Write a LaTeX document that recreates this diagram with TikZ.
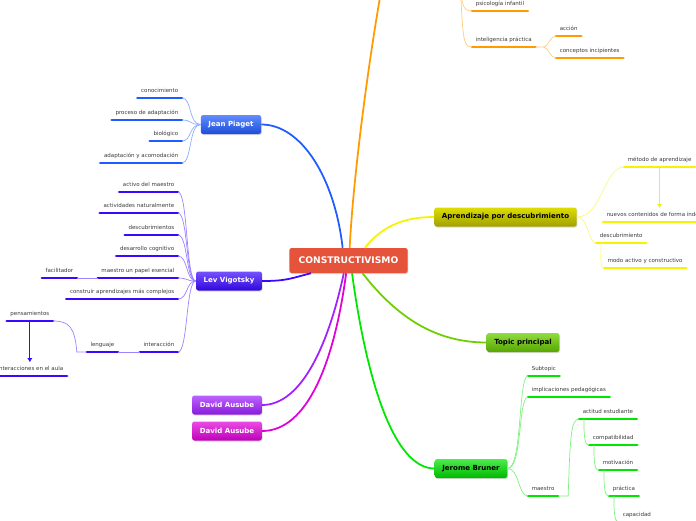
\documentclass[tikz,border=0pt]{standalone}
\usepackage{fontspec}
\usepackage{tikz}
\usetikzlibrary{shapes,arrows.meta,shadows}
\newfontfamily\mmfont{DejaVu Sans}
\definecolor{mmRoot}{HTML}{E4533A}
\definecolor{mmPiaget}{HTML}{1F5BFF}
\definecolor{mmVigotsky}{HTML}{3A08FF}
\definecolor{mmAusubelA}{HTML}{A020FF}
\definecolor{mmAusubelB}{HTML}{E000D8}
\definecolor{mmOrange}{HTML}{FF9A00}
\definecolor{mmYellow}{HTML}{F4F400}
\definecolor{mmOlive}{HTML}{C8C800}
\definecolor{mmLime}{HTML}{6CD000}
\definecolor{mmBruner}{HTML}{00E600}
\definecolor{mmText}{HTML}{3A3A3A}
\tikzset{
    mmBoxBase/.style={
        rectangle,
        rounded corners=2pt,
        minimum height=0.57cm,
        inner xsep=6.5pt,
        font=\mmfont\bfseries\fontsize{6}{7}\selectfont,
        text=white,
        drop shadow={opacity=0.3, shadow xshift=0.6pt, shadow yshift=-0.9pt}
    },
    % Topic Variants
    root/.style={mmBoxBase, fill=mmRoot, minimum height=0.75cm, inner xsep=8pt,
        font=\mmfont\bfseries\fontsize{7.8}{9}\selectfont},
    piaget/.style={mmBoxBase, top color=mmPiaget!70!white, bottom color=mmPiaget!85!black},
    vigotsky/.style={mmBoxBase, top color=mmVigotsky!70!white, bottom color=mmVigotsky!85!black},
    ausubelA/.style={mmBoxBase, top color=mmAusubelA!70!white, bottom color=mmAusubelA!85!black},
    ausubelB/.style={mmBoxBase, top color=mmAusubelB!70!white, bottom color=mmAusubelB!85!black},
    descub/.style={mmBoxBase, top color=mmOlive!60!yellow, bottom color=mmOlive!80!black, text=black},
    topicp/.style={mmBoxBase, top color=mmLime!75!white, bottom color=mmLime!80!black, text=black},
    bruner/.style={mmBoxBase, top color=mmBruner!70!white, bottom color=mmBruner!80!black, text=black},
    % Leaves with underline
    mmLeaf/.style={
        font=\mmfont\fontsize{4.7}{5.6}\selectfont,
        text=mmText,
        inner xsep=3pt, inner ysep=3.35pt,
        text height=3.6pt, text depth=1.1pt,
        append after command={(\tikzlastnode.south west) edge[line width=2.4pt, line cap=round, draw=#1] (\tikzlastnode.south east)}
    },
    leafL/.style={mmLeaf=#1, anchor=south east},
    leafR/.style={mmLeaf=#1, anchor=south west},
    % Connectors
    mmTrunk/.style={line width=1.5pt, draw=#1},
    mmTwig/.style={line width=0.6pt, draw=#1!50!white},
    mmArrow/.style={-{Latex[length=3.5pt,width=4.5pt]}, line width=0.8pt, draw=#1}
}

\begin{document}
\begin{tikzpicture}[x=0.03cm, y=-0.03cm]
\useasboundingbox (0,0) rectangle (696,520);

% main topics
\node[root] (root) at (348.5,260.5) {CONSTRUCTIVISMO};
\node[piaget] (piaget) at (231,124.5) {Jean Piaget};
\node[vigotsky] (vigotsky) at (229,281) {Lev Vigotsky};
\node[ausubelA] (ausubelA) at (227,405) {David Ausube};
\node[ausubelB] (ausubelB) at (227,431) {David Ausube};
\node[descub] (descub) at (505.5,217) {Aprendizaje por descubrimiento};
\node[topicp] (topicp) at (523,342.5) {Topic principal};
\node[bruner] (bruner) at (471,468.5) {Jerome Bruner};
\coordinate (orangeTop) at (392,-60);
\coordinate (orangeHub) at (460,-20);

\draw[mmTrunk=mmPiaget] ([xshift=-5pt]root.north) .. controls +(-8,-70) and +(40,0) .. (piaget.east);
\draw[mmTrunk=mmOrange] ([xshift=1pt]root.north) .. controls +(5,-100) and +(-10,30) .. (orangeTop);
\draw[mmTrunk=mmYellow] ([xshift=14pt]root.north) .. controls +(20,-25) and +(-25,0) .. (descub.west);
\draw[mmTrunk=mmVigotsky] ([xshift=-32pt]root.south) .. controls +(-20,5) and +(25,0) .. (vigotsky.east);
\draw[mmTrunk=mmAusubelA] ([xshift=-4pt]root.south) .. controls +(-15,70) and +(40,0) .. (ausubelA.east);
\draw[mmTrunk=mmAusubelB] ([xshift=-2pt]root.south) .. controls +(-12,90) and +(45,0) .. (ausubelB.east);
\draw[mmTrunk=mmBruner] ([xshift=3pt]root.south) .. controls +(15,110) and +(-40,0) .. (bruner.west);
\draw[mmTrunk=mmLime] ([xshift=12pt]root.south) .. controls +(35,45) and +(-50,0) .. (topicp.west);

% Jean Piaget
\node[leafL=mmPiaget] (pConoc) at (182,98) {conocimiento};
\node[leafL=mmPiaget] (pProceso) at (182,120) {proceso de adaptación};
\node[leafL=mmPiaget] (pBiol) at (182,141) {biológico};
\node[leafL=mmPiaget] (pAdapt) at (182,163) {adaptación y acomodación};
\draw[mmTwig=mmPiaget] (piaget.west) .. controls +(-12,0) and +(10,0) .. (pConoc.south east);
\draw[mmTwig=mmPiaget] (piaget.west) .. controls +(-12,0) and +(10,0) .. (pProceso.south east);
\draw[mmTwig=mmPiaget] (piaget.west) .. controls +(-12,0) and +(10,0) .. (pBiol.south east);
\draw[mmTwig=mmPiaget] (piaget.west) .. controls +(-12,0) and +(10,0) .. (pAdapt.south east);

% Lev Vigotsky
\node[leafL=mmVigotsky] (vActivo) at (178,192) {activo del maestro};
\node[leafL=mmVigotsky] (vActiv) at (178,213) {actividades naturalmente};
\node[leafL=mmVigotsky] (vDescub) at (178,235) {descubrimientos};
\node[leafL=mmVigotsky] (vDesarr) at (178,256) {desarrollo cognitivo};
\node[leafL=mmVigotsky] (vMaestro) at (178,278) {maestro un papel esencial};
\node[leafL=mmVigotsky] (vConstr) at (178,299) {construir aprendizajes más complejos};
\node[leafL=mmVigotsky] (vInter) at (178,352) {interacción};
\node[leafL=mmVigotsky] (vFacil) at (77,278) {facilitador};
\node[leafL=mmVigotsky] (vLeng) at (118,352) {lenguaje};
\node[leafL=mmVigotsky] (vPens) at (53,321) {pensamientos};
\node[leafL=mmVigotsky] (vAula) at (67,376) {interacciones en el aula};
\draw[mmTwig=mmVigotsky] (vigotsky.west) .. controls +(-10,0) and +(10,0) .. (vActivo.south east);
\draw[mmTwig=mmVigotsky] (vigotsky.west) .. controls +(-10,0) and +(10,0) .. (vActiv.south east);
\draw[mmTwig=mmVigotsky] (vigotsky.west) .. controls +(-10,0) and +(10,0) .. (vDescub.south east);
\draw[mmTwig=mmVigotsky] (vigotsky.west) .. controls +(-10,0) and +(10,0) .. (vDesarr.south east);
\draw[mmTwig=mmVigotsky] (vigotsky.west) .. controls +(-10,0) and +(10,0) .. (vMaestro.south east);
\draw[mmTwig=mmVigotsky] (vigotsky.west) .. controls +(-10,0) and +(10,0) .. (vConstr.south east);
\draw[mmTwig=mmVigotsky] (vigotsky.west) .. controls +(-10,0) and +(10,0) .. (vInter.south east);
\draw[mmTwig=mmVigotsky] (vMaestro.south west) -- (vFacil.south east);
\draw[mmTwig=mmVigotsky] (vInter.south west) -- (vLeng.south east);
\draw[mmTwig=mmVigotsky] (vLeng.south west) -- ++(-10,0) .. controls +(-2,-25) and +(16,0) .. (vPens.south east);
\draw[mmArrow=mmVigotsky] (vPens.south) -- (vPens.south |- vAula.north);

% orange branch (parent above the page)
\node[leafR=mmOrange] (oPsico) at (472,11) {psicología infantil};
\node[leafR=mmOrange] (oIntel) at (472,47) {inteligencia práctica};
\node[leafR=mmOrange] (oAccion) at (556,36) {acción};
\node[leafR=mmOrange] (oConc) at (556,58) {conceptos incipientes};
\draw[mmTwig=mmOrange] (orangeHub) .. controls (462,4) and (462,11) .. (oPsico.south west);
\draw[mmTwig=mmOrange] (orangeHub) .. controls (463,40) and (463,47) .. (oIntel.south west);
\draw[mmTwig=mmOrange] (oIntel.south east) -- ++(8,0) coordinate (oFork) .. controls +(5,0) and +(-6,0) .. (oAccion.south west);
\draw[mmTwig=mmOrange] (oFork) .. controls +(5,0) and +(-6,0) .. (oConc.south west);

% Aprendizaje por descubrimiento
\node[leafR=mmYellow] (yMetodo) at (624,167) {método de aprendizaje};
\node[leafR=mmYellow] (yNuevos) at (603,222) {nuevos contenidos de forma independiente};
\node[leafR=mmYellow] (yDescub) at (596,243) {descubrimiento};
\node[leafR=mmYellow] (yModo) at (604,268) {modo activo y constructivo};
\draw[mmTwig=mmYellow] (descub.east) .. controls +(25,0) and +(-20,0) .. (yMetodo.south west);
\draw[mmTwig=mmYellow] (descub.east) .. controls +(12,0) and +(-8,0) .. (yDescub.south west);
\draw[mmTwig=mmYellow] ([xshift=4.2pt]yDescub.south west) .. controls +(0,18) and +(-4,0) .. (yModo.south west);
\draw[mmArrow=mmYellow] (yMetodo.south) -- (yMetodo.south |- yNuevos.north);

% Jerome Bruner
\node[leafR=mmBruner] (gSub) at (528,376) {Subtopic};
\node[leafR=mmBruner] (gImpl) at (528,397) {implicaciones pedagógicas};
\node[leafR=mmBruner] (gMaestro) at (528,496) {maestro};
\node[leafR=mmBruner] (gActitud) at (579,419) {actitud estudiante};
\node[leafR=mmBruner] (gCompat) at (589,445) {compatibilidad};
\node[leafR=mmBruner] (gMotiv) at (599,470) {motivación};
\node[leafR=mmBruner] (gPract) at (609,496) {práctica};
\node[leafR=mmBruner] (gCapac) at (619,522) {capacidad};
\draw[mmTwig=mmBruner] (bruner.east) .. controls +(15,0) and +(-10,0) .. (gSub.south west);
\draw[mmTwig=mmBruner] (bruner.east) .. controls +(15,0) and +(-10,0) .. (gImpl.south west);
\draw[mmTwig=mmBruner] (bruner.east) .. controls +(12,0) and +(-10,0) .. (gMaestro.south west);
\draw[mmTwig=mmBruner] (gMaestro.south east) -- ++(10,0) .. controls +(2,-60) and +(-8,0) .. (gActitud.south west);
\draw[mmTwig=mmBruner] ([xshift=4.2pt]gActitud.south west) .. controls +(0,20) and +(-4,0) .. (gCompat.south west);
\draw[mmTwig=mmBruner] ([xshift=4.2pt]gCompat.south west) .. controls +(0,20) and +(-4,0) .. (gMotiv.south west);
\draw[mmTwig=mmBruner] ([xshift=4.2pt]gMotiv.south west) .. controls +(0,20) and +(-4,0) .. (gPract.south west);
\draw[mmTwig=mmBruner] ([xshift=4.2pt]gPract.south west) .. controls +(0,20) and +(-4,0) .. (gCapac.south west);
\end{tikzpicture}
\end{document}
